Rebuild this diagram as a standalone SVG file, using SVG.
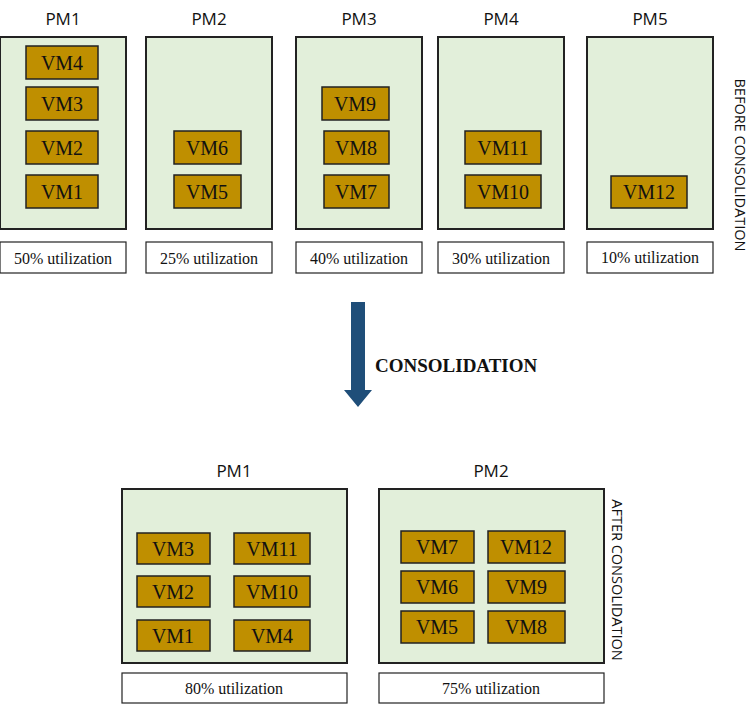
<svg xmlns="http://www.w3.org/2000/svg" width="751" height="704" viewBox="0 0 751 704">
<style>
.pm{fill:#e2efda;stroke:#222;stroke-width:2}
.vm{fill:#bf8f00;stroke:#222;stroke-width:1.5}
.ut{fill:#fff;stroke:#222;stroke-width:1.2}
.t{font-family:"Liberation Serif",serif;font-size:20px;text-anchor:middle;dominant-baseline:central;fill:#111}
.s{font-family:"Liberation Serif",serif;font-size:16px;text-anchor:middle;dominant-baseline:central;fill:#111}
.h{font-family:"Open Sans","DejaVu Sans",sans-serif;font-size:17px;text-anchor:middle;dominant-baseline:central;fill:#111}
.v{font-family:"Open Sans","DejaVu Sans",sans-serif;font-size:14.5px;text-anchor:middle;dominant-baseline:central;fill:#111}
</style>
<rect width="751" height="704" fill="#fff"/>
<g id="before-pm1"><text class="h" x="63" y="18">PM1</text><rect class="pm" x="0" y="37" width="126" height="192"/>
<rect class="vm" x="26" y="46" width="72" height="33"/><text class="t" x="62" y="63">VM4</text>
<rect class="vm" x="26" y="87" width="72" height="33"/><text class="t" x="62" y="104">VM3</text>
<rect class="vm" x="26" y="131" width="72" height="33"/><text class="t" x="62" y="148">VM2</text>
<rect class="vm" x="26" y="175" width="72" height="33"/><text class="t" x="62" y="192">VM1</text>
<rect class="ut" x="0" y="242" width="126" height="31"/><text class="s" x="63" y="258">50% utilization</text></g>
<g id="before-pm2"><text class="h" x="209" y="18">PM2</text><rect class="pm" x="146" y="37" width="126" height="192"/>
<rect class="vm" x="174" y="131" width="67" height="33"/><text class="t" x="207" y="148">VM6</text>
<rect class="vm" x="174" y="175" width="67" height="33"/><text class="t" x="207" y="192">VM5</text>
<rect class="ut" x="146" y="242" width="126" height="31"/><text class="s" x="209" y="258">25% utilization</text></g>
<g id="before-pm3"><text class="h" x="359" y="18">PM3</text><rect class="pm" x="296" y="37" width="126" height="192"/>
<rect class="vm" x="322" y="87" width="67" height="33"/><text class="t" x="355" y="104">VM9</text>
<rect class="vm" x="324" y="131" width="65" height="33"/><text class="t" x="356" y="148">VM8</text>
<rect class="vm" x="324" y="175" width="65" height="33"/><text class="t" x="356" y="192">VM7</text>
<rect class="ut" x="296" y="242" width="126" height="31"/><text class="s" x="359" y="258">40% utilization</text></g>
<g id="before-pm4"><text class="h" x="501" y="18">PM4</text><rect class="pm" x="438" y="37" width="126" height="192"/>
<rect class="vm" x="465" y="131" width="76" height="33"/><text class="t" x="503" y="148">VM11</text>
<rect class="vm" x="465" y="175" width="76" height="33"/><text class="t" x="503" y="192">VM10</text>
<rect class="ut" x="438" y="242" width="126" height="31"/><text class="s" x="501" y="258">30% utilization</text></g>
<g id="before-pm5"><text class="h" x="650" y="18">PM5</text><rect class="pm" x="587" y="37" width="126" height="192"/>
<rect class="vm" x="611" y="176" width="76" height="32"/><text class="t" x="649" y="192">VM12</text>
<rect class="ut" x="587" y="242" width="126" height="31"/><text class="s" x="650" y="257">10% utilization</text></g>
<text class="v" transform="translate(740 165) rotate(90)">BEFORE CONSOLIDATION</text>
<g id="connectors"><polygon points="351,302 365,302 365,390 372,390 358,407 344,390 351,390" fill="#1f4e79"/></g>
<text x="375" y="365" font-family="Liberation Serif,serif" font-size="19" font-weight="bold" dominant-baseline="central" fill="#111">CONSOLIDATION</text>
<g id="after-pm1"><text class="h" x="234" y="470">PM1</text><rect class="pm" x="122" y="489" width="225" height="174"/>
<rect class="vm" x="137" y="533" width="73" height="31"/><text class="t" x="173" y="549">VM3</text>
<rect class="vm" x="234" y="533" width="76" height="31"/><text class="t" x="272" y="549">VM11</text>
<rect class="vm" x="137" y="576" width="73" height="31"/><text class="t" x="173" y="592">VM2</text>
<rect class="vm" x="234" y="576" width="76" height="31"/><text class="t" x="272" y="592">VM10</text>
<rect class="vm" x="137" y="620" width="73" height="31"/><text class="t" x="173" y="636">VM1</text>
<rect class="vm" x="234" y="620" width="76" height="31"/><text class="t" x="272" y="636">VM4</text>
<rect class="ut" x="122" y="673" width="225" height="30"/><text class="s" x="234" y="688">80% utilization</text></g>
<g id="after-pm2"><text class="h" x="491" y="470">PM2</text><rect class="pm" x="379" y="489" width="225" height="174"/>
<rect class="vm" x="401" y="531" width="73" height="32"/><text class="t" x="437" y="547">VM7</text>
<rect class="vm" x="488" y="531" width="77" height="32"/><text class="t" x="526" y="547">VM12</text>
<rect class="vm" x="401" y="571" width="73" height="32"/><text class="t" x="437" y="587">VM6</text>
<rect class="vm" x="488" y="571" width="77" height="32"/><text class="t" x="526" y="587">VM9</text>
<rect class="vm" x="401" y="611" width="73" height="32"/><text class="t" x="437" y="627">VM5</text>
<rect class="vm" x="488" y="611" width="77" height="32"/><text class="t" x="526" y="627">VM8</text>
<rect class="ut" x="379" y="673" width="225" height="30"/><text class="s" x="491" y="688">75% utilization</text></g>
<text class="v" transform="translate(617 580) rotate(90)">AFTER CONSOLIDATION</text>
</svg>
